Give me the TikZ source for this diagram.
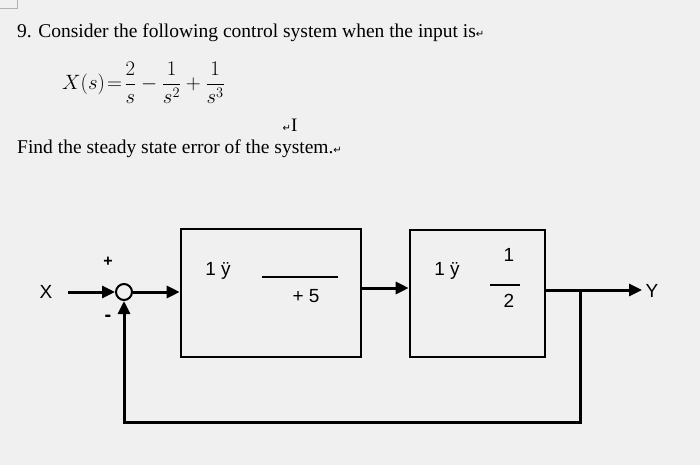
\documentclass[tikz,border=0pt]{standalone}
\usepackage{fontspec}
\setmainfont{Liberation Serif}
\newfontfamily\arialf{Liberation Sans}
\newfontfamily\djv{DejaVu Sans}
\usetikzlibrary{arrows.meta}
\begin{document}
\begin{tikzpicture}[x=1pt,y=-1pt,
  blk/.style={draw,line width=2.6pt},
  wire/.style={line width=3pt},
  arr/.style={wire,-{Triangle[length=13pt,width=12pt]}},
  lab/.style={font=\arialf\fontsize{19}{20}\selectfont,inner sep=0pt}]
\fill[gray!12] (0,0) rectangle (700,465);
\useasboundingbox (0,0) rectangle (700,465);
\draw[gray!60,line width=0.8pt] (0,8) -- (17,8) -- (17,0);
% header text
\node[anchor=west,inner sep=0pt,font=\fontsize{19.5}{22}\selectfont] (t1) at (17,33) {9. Consider the following control system when the input is{\djv\fontsize{10}{10}\selectfont ↵}};
\node[anchor=west,inner sep=0pt,font=\fontsize{21}{24}\selectfont] (eq) at (62,83) {$\displaystyle X(s)\!=\!\frac{2}{s}-\frac{1}{s^{2}}+\frac{1}{s^{3}}$};
\node[inner sep=0pt,font=\fontsize{19}{20}\selectfont] (cur) at (290,125) {{\djv\fontsize{10}{10}\selectfont ↵}I};
\node[anchor=west,inner sep=0pt,font=\fontsize{19.5}{22}\selectfont] (t2) at (17,149) {Find the steady state error of the system.{\djv\fontsize{10}{10}\selectfont ↵}};
% blocks
\node[blk,minimum width=180pt,minimum height=128pt,inner sep=0pt] (b1) at (271,293) {};
\node[blk,minimum width=135pt,minimum height=127pt,inner sep=0pt] (b2) at (477.5,293.5) {};
\node[draw,circle,line width=2pt,minimum size=16pt,inner sep=0pt] (sum) at (124,292) {};
\node[lab] (xin) at (46,292) {X};
\node[lab] (yout) at (652,291) {Y};
\node[lab,font=\arialf\fontsize{16}{18}\bfseries] (plus) at (108,262) {+};
\node[lab,font=\arialf\fontsize{20}{20}\bfseries] (minus) at (108,318) {-};
\node[lab] (g1a) at (218,271) {1 ÿ};
\node[lab] (g1b) at (306,296) {+ 5};
\node[lab] (g2a) at (447,271) {1 ÿ};
\node[lab] (g2n) at (509,255) {1};
\node[lab] (g2d) at (509,301) {2};
\draw[line width=2.2pt] (262,277) -- (338,277);
\draw[line width=2.2pt] (490,285) -- (520,285);
% connectors
\coordinate (xs) at (68,292);
\coordinate (br) at (580,290);
\coordinate (ye) at (642,290);
\draw[arr] (xs) -- (sum.west);
\draw[arr] (sum.east) -- (b1.west|-sum);
\draw[arr] (b1.east|-0,288) -- (b2.west|-0,288);
\draw[arr] (b2.east|-br) -- (ye);
\draw[arr] (br) -- (580,422) -- (124,422) -- (sum.south);
\end{tikzpicture}
\end{document}
